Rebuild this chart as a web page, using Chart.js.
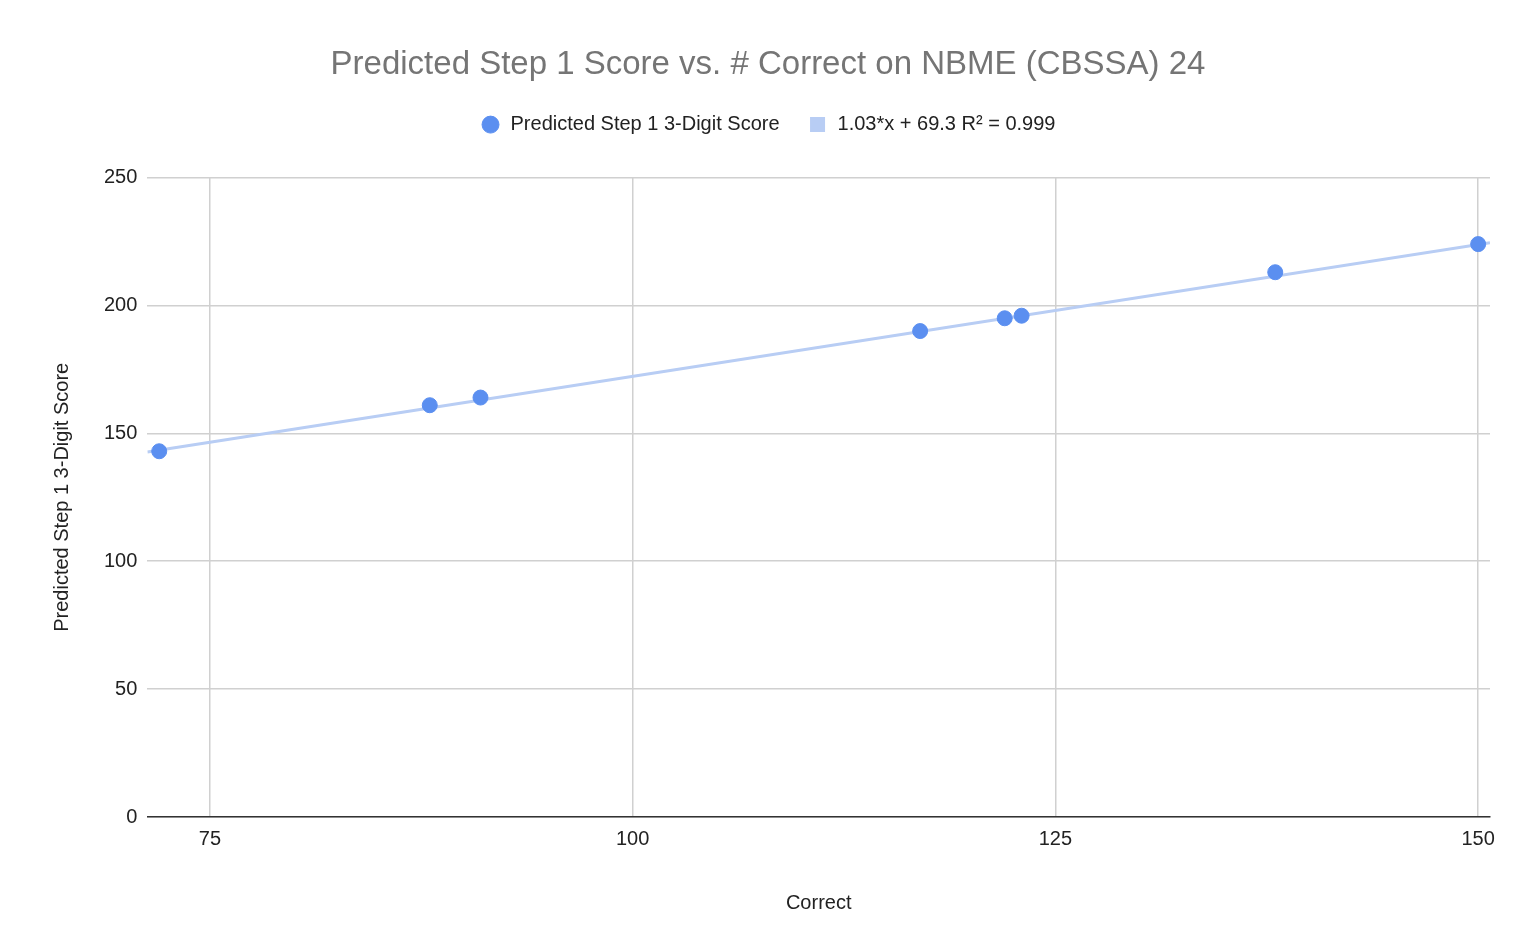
<!DOCTYPE html>
<html>
<head>
<meta charset="utf-8">
<script src="https://cdn.jsdelivr.net/npm/chart.js@4/dist/chart.umd.min.js"></script>
<style>
  html, body { margin: 0; padding: 0; background: #fff; }
  #wrap { width: 1536px; height: 949px; }
</style>
</head>
<body>
<div id="wrap"><canvas id="c"></canvas></div>
<script>
// punti
const correct = [72, 88, 91, 117, 122, 123, 138, 150];
const predicted = [143, 161, 164, 190, 195, 196, 213, 224];
const xTicks = [75, 100, 125, 150];
const xMin = 71.3, xMax = 150.7;
const slope = 1.03, intercept = 69.3;

const trend = [xMin, xMax].map(x => ({ x: x, y: slope * x + intercept }));
const pts = correct.map((x, i) => ({ x: x, y: predicted[i] }));

Chart.defaults.font.family = 'Arial, "Liberation Sans", sans-serif';
Chart.defaults.color = '#222';

// spazio extra sotto la legenda
const legendGap = {
    id: 'legendGap',
    beforeInit(chart) {
        const orig = chart.legend.fit;
        chart.legend.fit = function () { orig.call(this); this.height += 33; };
    }
};

new Chart(document.getElementById('c'), {
    type: 'scatter',
    data: {
        datasets: [
            {
                label: 'Predicted Step 1 3-Digit Score',
                data: pts,
                backgroundColor: '#5b8ff0',
                borderColor: '#5b8ff0',
                pointRadius: 7.5,
                order: 1
            },
            {
                label: '1.03*x + 69.3 R² = 0.999',
                data: trend,
                type: 'line',
                showLine: true,
                borderColor: '#b8cdf4',
                backgroundColor: '#b8cdf4',
                borderWidth: 3,
                pointRadius: 0,
                order: 2
            }
        ]
    },
    plugins: [legendGap],
    options: {
        responsive: true,
        maintainAspectRatio: false,
        animation: false,
        layout: { padding: { left: 46, right: 46, top: 30, bottom: 30 } },
        plugins: {
            title: {
                display: true,
                text: 'Predicted Step 1 Score vs. # Correct on NBME (CBSSA) 24',
                color: '#757575',
                font: { size: 33, weight: 'normal' },
                padding: { top: 15, bottom: 2 }
            },
            legend: {
                labels: {
                    font: { size: 20 },
                    color: '#222',
                    padding: 28,
                    generateLabels: chart => {
                        const items = Chart.defaults.plugins.legend.labels.generateLabels(chart);
                        items[0].pointStyle = 'circle';
                        items[1].pointStyle = 'rect';
                        return items;
                    },
                    usePointStyle: true,
                    boxWidth: 22,
                    boxHeight: 12
                }
            },
            tooltip: { enabled: false }
        },
        scales: {
            x: {
                type: 'linear',
                min: xMin,
                max: xMax,
                afterBuildTicks: axis => { axis.ticks = xTicks.map(v => ({ value: v })); },
                grid: { color: '#d0d0d0', lineWidth: 1.5, drawTicks: false },
                border: { color: '#333', width: 1.5 },
                ticks: { font: { size: 20 }, padding: 10 },
                title: { display: true, text: 'Correct', font: { size: 20 }, padding: { top: 30 } }
            },
            y: {
                min: 0,
                max: 250,
                ticks: { stepSize: 50, font: { size: 20 }, padding: 10 },
                grid: { color: '#d0d0d0', lineWidth: 1.5, drawTicks: false },
                border: { display: false },
                title: { display: true, text: 'Predicted Step 1 3-Digit Score', font: { size: 20 }, padding: { bottom: 20 } }
            }
        }
    }
});
</script>
</body>
</html>
